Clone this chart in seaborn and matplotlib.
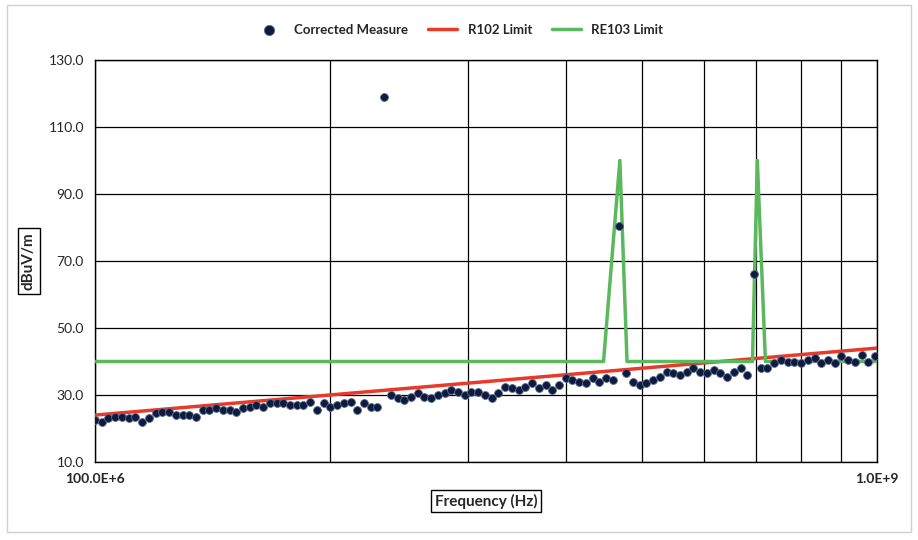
import matplotlib
matplotlib.use("Agg")
import matplotlib.pyplot as plt
import seaborn as sns
import numpy as np
import pandas as pd
from matplotlib.ticker import FixedLocator, NullFormatter

# frequency points (MHz)
freq_mhz = [100, 102, 104, 106.1, 108.2, 110.4, 112.6, 114.9, 117.2, 119.5, 121.9, 124.3, 126.8,
            129.4, 131.9, 134.6, 137.3, 140, 142.8, 145.7, 148.6, 151.6, 154.6, 157.7, 160.8, 164,
            167.3, 170.7, 174.1, 177.6, 181.1, 184.7, 188.4, 192.2, 196, 200, 204, 208, 212.2,
            216.4, 220.8, 225.2, 229.7, 234.3, 239, 243.7, 248.6, 253.6, 258.7, 263.8, 269.1,
            274.5, 280, 285.6, 291.3, 297.1, 303, 309.1, 315.3, 321.6, 328, 334.6, 341.3, 348.1,
            355.1, 362.2, 369.4, 376.8, 384.3, 392, 399.9, 407.9, 416, 424.3, 432.8, 441.5, 450.3,
            459.3, 468.5, 477.9, 487.4, 497.2, 507.1, 517.3, 527.6, 538.2, 548.9, 559.9, 571.1,
            582.5, 594.2, 606.1, 618.2, 630.5, 643.1, 656, 669.1, 682.5, 696.2, 710.1, 724.3,
            738.8, 753.6, 768.6, 784, 799.7, 815.7, 832, 848.6, 865.6, 882.9, 900.6, 918.6, 937,
            955.7, 974.8, 994.3]

measure = [22.5, 22, 23, 23.5, 23.5, 23, 23.5, 22, 23, 24.5, 25, 25, 24, 24, 24, 23.5, 25.5, 25.5,
           26, 25.5, 25.5, 25, 26, 26.5, 27, 26.5, 27.5, 27.5, 27.5, 27, 27, 27, 28, 25.5, 27.5, 26.5,
           27, 27.5, 28, 25.5, 27.5, 26.5, 26.5,
           119,
           30, 29, 28.5, 29.5, 30.5, 29.5, 29, 30, 30.5, 31.5, 31, 30, 31, 31, 30, 29, 30.5, 32.5,
           32, 31.5, 32.5, 33.5, 32, 33, 31.5, 33, 35, 34.5, 34, 33.5, 35, 34, 35, 34.5,
           80.5,
           36.5, 34, 33, 33.5, 34.5, 35.5, 37, 36.5, 36, 37, 38, 37, 36.5, 37.5, 36.5, 35.5, 37, 38, 36,
           66,
           38, 38, 39.5, 40.5, 40, 40, 39.5, 40.5, 41, 39.5, 40.5, 39.5, 41.5, 40.5, 40, 42, 40, 41.5]

r102_freq = [100e6, 1e9]
r102_lim = [24, 44]

re103_freq = [100e6, 447e6, 469e6, 479e6, 693e6, 703e6, 720e6, 1e9]
re103_lim = [40, 40, 100, 40, 40, 100, 40, 40]

sns.set_style("white")
plt.rcParams["font.family"] = ["Lato", "DejaVu Sans"]

df = pd.DataFrame({"f": np.array(freq_mhz) * 1e6, "v": measure})

fig = plt.figure(figsize=(9.18, 5.4), dpi=100)
fig.patches.append(plt.Rectangle((0.008, 0.015), 0.984, 0.975, transform=fig.transFigure,
                                 fill=False, edgecolor="#d0d0d0", lw=1))
ax = fig.add_axes([95 / 918, 1 - 462 / 540, (877 - 95) / 918, (462 - 60) / 540])

sns.lineplot(x=r102_freq, y=r102_lim, ax=ax, color="#e8392b", lw=2.5, label="R102 Limit", zorder=3)
sns.lineplot(x=re103_freq, y=re103_lim, ax=ax, color="#5cb85c", lw=2.5, label="RE103 Limit", zorder=3)
sns.scatterplot(data=df, x="f", y="v", ax=ax, color="#0d1b3e", edgecolor="#5a6a8a", s=32,
                linewidth=0.6, label="Corrected Measure", zorder=4)

ax.set_xscale("log")
ax.set_xlim(1e8, 1e9)
ax.set_ylim(10, 130)
ax.set_yticks(np.arange(10, 131, 20))
ax.set_yticklabels([f"{v:.1f}" for v in np.arange(10, 131, 20)], fontsize=10)
ax.xaxis.set_major_locator(FixedLocator([1e8, 1e9]))
ax.set_xticklabels(["100.0E+6", "1.0E+9"], fontsize=10, fontweight="bold")
ax.xaxis.set_minor_locator(FixedLocator([k * 1e8 for k in range(2, 10)]))
ax.xaxis.set_minor_formatter(NullFormatter())
ax.grid(True, which="both", color="black", lw=0.9)
for s in ax.spines.values():
    s.set_color("black")
    s.set_linewidth(1)
ax.tick_params(length=0)
ax.tick_params(axis="x", pad=8)
ax.tick_params(axis="y", pad=8)

box = dict(boxstyle="square,pad=0.25", fc="white", ec="black", lw=1)
ax.set_xlabel("Frequency (Hz)", fontsize=11, fontweight="bold", bbox=box, labelpad=6)
ax.set_ylabel("dBuV/m", fontsize=11, fontweight="bold", bbox=box, labelpad=9)

h, l = ax.get_legend_handles_labels()
order = [2, 0, 1]
fig.legend([h[i] for i in order], [l[i] for i in order], loc="center", bbox_to_anchor=(0.5, 0.945),
           ncol=3, frameon=False, prop={"weight": "bold", "size": 9.5}, handlelength=2.2,
           columnspacing=1.5, markerscale=1.3)
ax.get_legend().remove()

fig.savefig("out.png", dpi=100)
